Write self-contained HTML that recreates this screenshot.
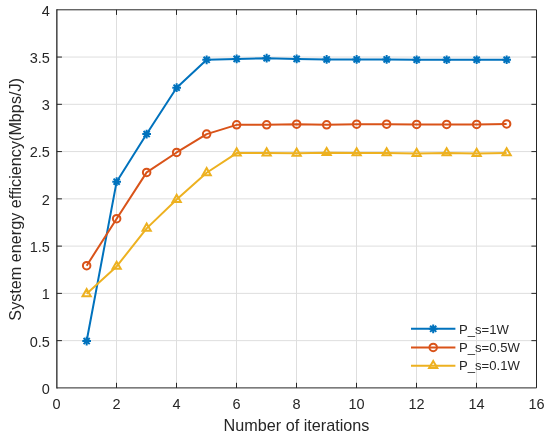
<!DOCTYPE html>
<html><head><meta charset="utf-8"><title>System energy efficiency</title>
<style>
html,body{margin:0;padding:0;background:#fff;width:550px;height:435px;overflow:hidden}
svg{display:block;filter:blur(0.25px)}
text{font-family:"Liberation Sans", Arial, Helvetica, sans-serif;fill:#262626}
</style></head><body>
<svg width="550" height="435" viewBox="0 0 550 435">
<rect x="0" y="0" width="550" height="435" fill="#fff"/>
<path d="M116.50 9.80V387.90M176.50 9.80V387.90M236.50 9.80V387.90M296.50 9.80V387.90M356.50 9.80V387.90M416.50 9.80V387.90M476.50 9.80V387.90M56.50 340.64H536.50M56.50 293.38H536.50M56.50 246.11H536.50M56.50 198.85H536.50M56.50 151.59H536.50M56.50 104.32H536.50M56.50 57.06H536.50" stroke="#dedede" stroke-width="1" fill="none"/>
<path d="M86.65 341.04L116.65 181.67L146.65 134.03L176.65 87.71L206.65 59.83L236.65 58.88L266.65 58.22L296.65 58.88L326.65 59.45L356.65 59.45L386.65 59.45L416.65 59.73L446.65 59.73L476.65 59.73L506.65 59.73" stroke="#0072bd" stroke-width="2.0" fill="none" stroke-linejoin="round"/>
<path d="M82.30 341.04H91.00M86.65 336.69V345.39M83.57 337.96L89.73 344.11M83.57 344.11L89.73 337.96M112.30 181.67H121.00M116.65 177.32V186.02M113.57 178.59L119.73 184.74M113.57 184.74L119.73 178.59M142.30 134.03H151.00M146.65 129.68V138.38M143.57 130.95L149.73 137.10M143.57 137.10L149.73 130.95M172.30 87.71H181.00M176.65 83.36V92.06M173.57 84.63L179.73 90.79M173.57 90.79L179.73 84.63M202.30 59.83H211.00M206.65 55.48V64.18M203.57 56.75L209.73 62.90M203.57 62.90L209.73 56.75M232.30 58.88H241.00M236.65 54.53V63.23M233.57 55.80L239.73 61.96M233.57 61.96L239.73 55.80M262.30 58.22H271.00M266.65 53.87V62.57M263.57 55.14L269.73 61.29M263.57 61.29L269.73 55.14M292.30 58.88H301.00M296.65 54.53V63.23M293.57 55.80L299.73 61.96M293.57 61.96L299.73 55.80M322.30 59.45H331.00M326.65 55.10V63.80M323.57 56.37L329.73 62.52M323.57 62.52L329.73 56.37M352.30 59.45H361.00M356.65 55.10V63.80M353.57 56.37L359.73 62.52M353.57 62.52L359.73 56.37M382.30 59.45H391.00M386.65 55.10V63.80M383.57 56.37L389.73 62.52M383.57 62.52L389.73 56.37M412.30 59.73H421.00M416.65 55.38V64.08M413.57 56.66L419.73 62.81M413.57 62.81L419.73 56.66M442.30 59.73H451.00M446.65 55.38V64.08M443.57 56.66L449.73 62.81M443.57 62.81L449.73 56.66M472.30 59.73H481.00M476.65 55.38V64.08M473.57 56.66L479.73 62.81M473.57 62.81L479.73 56.66M502.30 59.73H511.00M506.65 55.38V64.08M503.57 56.66L509.73 62.81M503.57 62.81L509.73 56.66" stroke="#0072bd" stroke-width="2.0" fill="none"/>
<path d="M86.65 265.70L116.65 218.72L146.65 172.40L176.65 152.46L206.65 134.12L236.65 124.86L266.65 124.86L296.65 124.20L326.65 124.86L356.65 124.20L386.65 124.20L416.65 124.39L446.65 124.39L476.65 124.39L506.65 123.96" stroke="#d95319" stroke-width="2.0" fill="none" stroke-linejoin="round"/>
<circle cx="86.65" cy="265.70" r="3.75" stroke="#d95319" stroke-width="2.0" fill="none"/>
<circle cx="116.65" cy="218.72" r="3.75" stroke="#d95319" stroke-width="2.0" fill="none"/>
<circle cx="146.65" cy="172.40" r="3.75" stroke="#d95319" stroke-width="2.0" fill="none"/>
<circle cx="176.65" cy="152.46" r="3.75" stroke="#d95319" stroke-width="2.0" fill="none"/>
<circle cx="206.65" cy="134.12" r="3.75" stroke="#d95319" stroke-width="2.0" fill="none"/>
<circle cx="236.65" cy="124.86" r="3.75" stroke="#d95319" stroke-width="2.0" fill="none"/>
<circle cx="266.65" cy="124.86" r="3.75" stroke="#d95319" stroke-width="2.0" fill="none"/>
<circle cx="296.65" cy="124.20" r="3.75" stroke="#d95319" stroke-width="2.0" fill="none"/>
<circle cx="326.65" cy="124.86" r="3.75" stroke="#d95319" stroke-width="2.0" fill="none"/>
<circle cx="356.65" cy="124.20" r="3.75" stroke="#d95319" stroke-width="2.0" fill="none"/>
<circle cx="386.65" cy="124.20" r="3.75" stroke="#d95319" stroke-width="2.0" fill="none"/>
<circle cx="416.65" cy="124.39" r="3.75" stroke="#d95319" stroke-width="2.0" fill="none"/>
<circle cx="446.65" cy="124.39" r="3.75" stroke="#d95319" stroke-width="2.0" fill="none"/>
<circle cx="476.65" cy="124.39" r="3.75" stroke="#d95319" stroke-width="2.0" fill="none"/>
<circle cx="506.65" cy="123.96" r="3.75" stroke="#d95319" stroke-width="2.0" fill="none"/>
<path d="M86.65 293.77L116.65 266.46L146.65 228.36L176.65 199.53L206.65 172.78L236.65 153.12L266.65 153.12L296.65 153.25L326.65 152.65L356.65 152.93L386.65 152.93L416.65 153.59L446.65 152.93L476.65 153.59L506.65 152.93" stroke="#edb120" stroke-width="2.0" fill="none" stroke-linejoin="round"/>
<path d="M86.65 289.02L90.76 296.15L82.54 296.15ZM116.65 261.71L120.76 268.83L112.54 268.83ZM146.65 223.61L150.76 230.74L142.54 230.74ZM176.65 194.78L180.76 201.91L172.54 201.91ZM206.65 168.03L210.76 175.16L202.54 175.16ZM236.65 148.37L240.76 155.50L232.54 155.50ZM266.65 148.37L270.76 155.50L262.54 155.50ZM296.65 148.50L300.76 155.63L292.54 155.63ZM326.65 147.90L330.76 155.02L322.54 155.02ZM356.65 148.18L360.76 155.31L352.54 155.31ZM386.65 148.18L390.76 155.31L382.54 155.31ZM416.65 148.84L420.76 155.97L412.54 155.97ZM446.65 148.18L450.76 155.31L442.54 155.31ZM476.65 148.84L480.76 155.97L472.54 155.97ZM506.65 148.18L510.76 155.31L502.54 155.31Z" stroke="#edb120" stroke-width="2.0" fill="none"/>
<path d="M56.85 9.3V388.4" stroke="#262626" stroke-width="1.3" fill="none"/>
<path d="M56.85 9.8H536.5V387.9H56.85M116.50 387.90V382.80M116.50 9.80V14.90M176.50 387.90V382.80M176.50 9.80V14.90M236.50 387.90V382.80M236.50 9.80V14.90M296.50 387.90V382.80M296.50 9.80V14.90M356.50 387.90V382.80M356.50 9.80V14.90M416.50 387.90V382.80M416.50 9.80V14.90M476.50 387.90V382.80M476.50 9.80V14.90M56.85 340.64H61.95M536.50 340.64H531.40M56.85 293.38H61.95M536.50 293.38H531.40M56.85 246.11H61.95M536.50 246.11H531.40M56.85 198.85H61.95M536.50 198.85H531.40M56.85 151.59H61.95M536.50 151.59H531.40M56.85 104.32H61.95M536.50 104.32H531.40M56.85 57.06H61.95M536.50 57.06H531.40" stroke="#262626" stroke-width="1" fill="none" shape-rendering="auto"/>
<text x="56.50" y="409" text-anchor="middle" font-size="14.5">0</text>
<text x="116.50" y="409" text-anchor="middle" font-size="14.5">2</text>
<text x="176.50" y="409" text-anchor="middle" font-size="14.5">4</text>
<text x="236.50" y="409" text-anchor="middle" font-size="14.5">6</text>
<text x="296.50" y="409" text-anchor="middle" font-size="14.5">8</text>
<text x="356.50" y="409" text-anchor="middle" font-size="14.5">10</text>
<text x="416.50" y="409" text-anchor="middle" font-size="14.5">12</text>
<text x="476.50" y="409" text-anchor="middle" font-size="14.5">14</text>
<text x="536.50" y="409" text-anchor="middle" font-size="14.5">16</text>
<text x="49.9" y="393.80" text-anchor="end" font-size="14.5">0</text>
<text x="49.9" y="346.54" text-anchor="end" font-size="14.5">0.5</text>
<text x="49.9" y="299.27" text-anchor="end" font-size="14.5">1</text>
<text x="49.9" y="252.01" text-anchor="end" font-size="14.5">1.5</text>
<text x="49.9" y="204.75" text-anchor="end" font-size="14.5">2</text>
<text x="49.9" y="157.49" text-anchor="end" font-size="14.5">2.5</text>
<text x="49.9" y="110.22" text-anchor="end" font-size="14.5">3</text>
<text x="49.9" y="62.96" text-anchor="end" font-size="14.5">3.5</text>
<text x="49.9" y="15.70" text-anchor="end" font-size="14.5">4</text>
<text x="296.50" y="430.9" text-anchor="middle" font-size="16.2">Number of iterations</text>
<text transform="translate(21.1 199.35) rotate(-90)" text-anchor="middle" font-size="16.2">System energy efficiency(Mbps/J)</text>
<path d="M411 328.8H455.4" stroke="#0072bd" stroke-width="2.0" fill="none"/>
<path d="M428.85 328.80H437.55M433.20 324.45V333.15M430.12 325.72L436.28 331.88M430.12 331.88L436.28 325.72" stroke="#0072bd" stroke-width="2.0" fill="none"/>
<text x="459" y="333.50" font-size="13.1">P_s=1W</text>
<path d="M411 347.4H455.4" stroke="#d95319" stroke-width="2.0" fill="none"/>
<circle cx="433.2" cy="347.4" r="3.75" stroke="#d95319" stroke-width="2.0" fill="none"/>
<text x="459" y="352.10" font-size="13.1">P_s=0.5W</text>
<path d="M411 365.7H455.4" stroke="#edb120" stroke-width="2.0" fill="none"/>
<path d="M433.20 360.95L437.31 368.07L429.09 368.07Z" stroke="#edb120" stroke-width="2.0" fill="none"/>
<text x="459" y="370.40" font-size="13.1">P_s=0.1W</text>
</svg>
</body></html>
